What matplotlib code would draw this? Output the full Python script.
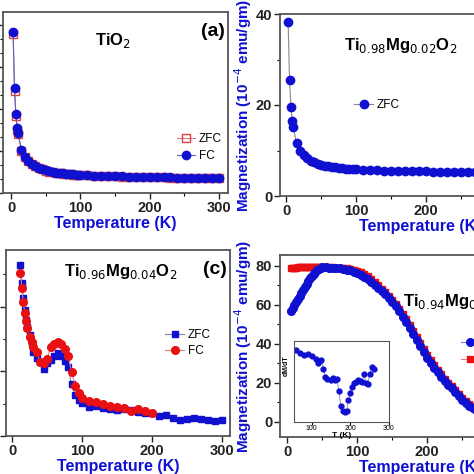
import matplotlib
matplotlib.use("Agg")
import matplotlib.pyplot as plt
from matplotlib.ticker import MultipleLocator

W = H = 474
fig = plt.figure(figsize=(4.74, 4.74), dpi=100)
plt.rcParams['font.family'] = ['Liberation Sans', 'DejaVu Sans']

BLUE = '#1010d0'
RED = '#e81010'

# Panel (a) TiO2
Ta = [3, 5, 7, 9, 10, 15, 20, 25, 30, 35, 40, 45, 50, 55, 60, 65, 70, 75, 80, 85, 90, 95, 100,
      110, 120, 130, 140, 150, 160, 170, 180, 190, 200, 210, 220, 230, 240, 250, 260, 270, 280, 290, 300]
Ma_fc = [11.5, 7.5, 5.6, 4.6, 4.3, 3.1, 2.6, 2.3, 2.1, 1.95, 1.8, 1.7, 1.62, 1.55, 1.5, 1.45, 1.42, 1.39, 1.36, 1.34, 1.32, 1.3, 1.28,
         1.26, 1.24, 1.22, 1.2, 1.19, 1.18, 1.17, 1.16, 1.15, 1.14, 1.13, 1.12, 1.11, 1.1, 1.1, 1.09, 1.08, 1.08, 1.07, 1.07]
Ma_zfc = [11.3, 7.3, 5.5, 4.5, 4.2, 3.0, 2.55, 2.25, 2.05, 1.9, 1.78, 1.68, 1.6, 1.53, 1.48, 1.44, 1.41, 1.38, 1.35, 1.33, 1.31, 1.29, 1.27,
          1.25, 1.23, 1.21, 1.19, 1.18, 1.17, 1.16, 1.15, 1.14, 1.13, 1.12, 1.11, 1.1, 1.09, 1.09, 1.08, 1.07, 1.07, 1.06, 1.06]

# Panel (b) Ti0.98Mg0.02O2
Tb = [3, 5, 7, 9, 10, 15, 20, 25, 30, 35, 40, 45, 50, 55, 60, 65, 70, 75, 80, 85, 90, 95, 100,
      110, 120, 130, 140, 150, 160, 170, 180, 190, 200, 210, 220, 230, 240, 250, 260, 270, 280, 290, 300]
Mb = [38.3, 25.4, 19.5, 16.4, 15.2, 11.7, 10.0, 9.0, 8.3, 7.8, 7.4, 7.1, 6.9, 6.7, 6.5, 6.4, 6.3, 6.2, 6.1, 6.0, 5.95, 5.9, 5.85,
      5.8, 5.7, 5.65, 5.6, 5.55, 5.5, 5.5, 5.45, 5.4, 5.4, 5.35, 5.35, 5.3, 5.3, 5.3, 5.3, 5.3, 5.3, 5.3, 5.3]

# Panel (c) Ti0.96Mg0.04O2
Tc_zfc = [12, 14, 16, 18, 20, 22, 25, 28, 30, 35, 40, 45, 50, 55, 60, 65, 70, 75, 80, 85, 90, 95, 100,
          110, 120, 130, 140, 150, 160, 170, 180, 190, 200, 210, 220, 230, 240, 250, 260, 270, 280, 290, 300]
Mc_zfc = [5.29, 4.72, 4.26, 3.9, 3.6, 3.38, 3.12, 2.87, 2.61, 2.42, 2.3, 2.07, 2.25, 2.35, 2.48, 2.56, 2.48, 2.33, 2.12, 1.6, 1.27, 1.11, 1.01,
          0.91, 0.94, 0.88, 0.85, 0.8, 0.82, 0.79, 0.74, 0.72, 0.7, 0.63, 0.66, 0.57, 0.49, 0.53, 0.55, 0.52, 0.51, 0.47, 0.48]
Tc_fc = [12, 14, 16, 18, 20, 22, 25, 28, 30, 35, 40, 45, 50, 55, 60, 65, 70, 75, 80, 85, 90, 95, 100,
         110, 120, 130, 140, 150, 160, 170, 180, 190, 200]
Mc_fc = [5.03, 4.59, 4.15, 3.81, 3.54, 3.33, 3.07, 2.92, 2.76, 2.59, 2.3, 2.27, 2.38, 2.76, 2.85, 2.92, 2.85, 2.69, 2.48, 1.99, 1.56, 1.32, 1.16,
         1.08, 1.04, 0.98, 0.93, 0.89, 0.86, 0.78, 0.82, 0.77, 0.7]

# Panel (d) Ti0.94Mg0.06O2
Td = [5, 8, 10, 13, 15, 18, 20, 23, 25, 28, 30, 33, 35, 38, 40, 43, 45, 48, 50, 55, 60, 65, 70, 75, 80, 85, 90, 95, 100,
      105, 110, 115, 120, 125, 130, 135, 140, 145, 150, 155, 160, 165, 170, 175, 180, 185, 190, 195, 200,
      205, 210, 215, 220, 225, 230, 235, 240, 245, 250, 255, 260, 265, 270, 275, 280, 290, 300]
Md_zfc = [57, 58.5, 60, 61.5, 63, 64.5, 66, 67.5, 69, 70.5, 72, 73.5, 75, 76, 77, 78, 78.5, 79, 79.2, 79.2, 79, 79, 78.8, 78.6, 78.3, 78, 77.6, 77, 76.2,
          75.3, 74.3, 73, 71.7, 70.3, 68.8, 67.2, 65.5, 63.6, 61.6, 59.3, 56.8, 54, 51, 48, 45, 42, 38.8, 35.8, 33,
          30.3, 27.8, 25.5, 23.2, 21, 19, 17.2, 15.5, 13.5, 11.5, 9.8, 8.4, 7.2, 6.2, 5.4, 4.8, 4.0, 3.5]
Md_fc = [79, 79, 79, 79, 79.1, 79.1, 79.1, 79.1, 79.1, 79.1, 79.1, 79.1, 79.1, 79.1, 79.1, 79.1, 79.1, 79.1, 79.1, 79.1, 79.1, 79.1, 79, 79, 78.9, 78.7, 78.4, 78, 77.5,
         76.7, 75.8, 74.5, 73, 71.5, 70, 68.2, 66.5, 64.5, 62.5, 60.5, 58, 55.5, 52.5, 49.5, 46.5, 43.5, 40.5, 37.5, 34.5,
         31.8, 29.2, 26.8, 24.5, 22.2, 20.2, 18.3, 16.5, 14.5, 12.5, 10.8, 9.2, 8, 6.8, 5.9, 5.2, 4.3, 3.8]

# Inset dM/dT
Ti = [60, 70, 80, 90, 100, 110, 115, 120, 125, 130, 135, 140, 150, 155, 160, 165, 170, 175, 180, 185, 190,
      195, 200, 205, 210, 215, 220, 225, 230, 235, 240, 245, 250, 255, 260]
Mi = [223, 215, 210, 212, 205, 195, 185, 190, 192, 165, 140, 135, 132, 138, 130, 135, 98, 50, 35, 30, 33,
      70, 90, 108, 120, 125, 130, 128, 123, 150, 122, 118, 150, 170, 165]


def ax_px(l, t, r, b):
    return fig.add_axes([l / W, 1 - b / H, (r - l) / W, (b - t) / H])


def style(ax):
    for s in ax.spines.values():
        s.set_color('#555555')
        s.set_linewidth(1.3)
    ax.tick_params(direction='out', length=4, width=1, labelsize=10.5, colors='#222222', pad=1.5)
    ax.tick_params(which='minor', direction='out', length=2.5, width=0.8)
    for lab in ax.get_xticklabels() + ax.get_yticklabels():
        lab.set_fontweight('bold')
    ax.set_xlabel('Temperature (K)', color=BLUE, fontsize=11.5, fontweight='bold', labelpad=1)


lab_kw = dict(fontsize=12, fontweight='bold')
YL = 'Magnetization (10$^{-4}$ emu/gm)'

# (a)
ax = ax_px(3, 12, 228, 193)
ax.plot(Ta, Ma_zfc, '-s', color='#d08080', mfc='none', mec='#e04040', ms=6, lw=0.8, label='ZFC')
ax.plot(Ta, Ma_fc, '-o', color='#6060c0', mfc=BLUE, mec=BLUE, ms=6, lw=0.8, label='FC')
ax.set_xlim(-11.6, 313)
ax.set_ylim(0, 12.9)
ax.xaxis.set_major_locator(MultipleLocator(100))
ax.xaxis.set_minor_locator(MultipleLocator(50))
ax.yaxis.set_major_locator(MultipleLocator(3))
ax.yaxis.set_minor_locator(MultipleLocator(1))
ax.set_yticklabels([])
style(ax)
ax.legend(loc='center left', bbox_to_anchor=(0.74, 0.25), frameon=False, fontsize=8.5, handlelength=1.6,
          borderpad=0.1, labelspacing=0.4, handletextpad=0.3)
ax.text(0.49, 0.82, 'TiO$_2$', transform=ax.transAxes, ha='center', **lab_kw)
ax.text(0.985, 0.94, '(a)', transform=ax.transAxes, ha='right', va='top', fontsize=14, fontweight='bold')

# (b)
ax = ax_px(280, 14, 560, 196)
ax.plot(Tb, Mb, '-o', color='#888888', mfc=BLUE, mec=BLUE, ms=6, lw=0.8, label='ZFC')
ax.set_xlim(-8.6, 391)
ax.set_ylim(0, 40)
ax.xaxis.set_major_locator(MultipleLocator(100))
ax.xaxis.set_minor_locator(MultipleLocator(50))
ax.yaxis.set_major_locator(MultipleLocator(20))
ax.yaxis.set_minor_locator(MultipleLocator(10))
style(ax)
ax.set_ylabel(YL, color=BLUE, fontsize=11, fontweight='bold', labelpad=1)
ax.legend(loc='center left', bbox_to_anchor=(0.24, 0.5), frameon=False, fontsize=8.5, handlelength=1.6,
          borderpad=0.1, handletextpad=0.3)
ax.text(0.23, 0.80, 'Ti$_{0.98}$Mg$_{0.02}$O$_2$', transform=ax.transAxes, ha='left', **lab_kw)

# (c)
ax = ax_px(6, 250, 230, 436)
ax.plot(Tc_zfc, Mc_zfc, '-s', color='#8080d0', mfc=BLUE, mec=BLUE, ms=5, lw=0.8, label='ZFC')
ax.plot(Tc_fc, Mc_fc, '-o', color='#e08080', mfc=RED, mec=RED, ms=5.5, lw=0.8, label='FC')
ax.set_xlim(-8.6, 311)
ax.set_ylim(0, 5.75)
ax.xaxis.set_major_locator(MultipleLocator(100))
ax.yaxis.set_major_locator(MultipleLocator(2))
ax.yaxis.set_minor_locator(MultipleLocator(1))
ax.set_yticklabels([])
style(ax)
ax.legend(loc='center left', bbox_to_anchor=(0.68, 0.5), frameon=False, fontsize=8.5, handlelength=1.6,
          borderpad=0.1, labelspacing=0.3, handletextpad=0.3)
ax.text(0.26, 0.86, 'Ti$_{0.96}$Mg$_{0.04}$O$_2$', transform=ax.transAxes, ha='left', **lab_kw)
ax.text(0.985, 0.94, '(c)', transform=ax.transAxes, ha='right', va='top', fontsize=14, fontweight='bold')

# (d)
ax = ax_px(280, 255, 560, 437)
ax.plot(Td, Md_fc, '-s', color='#e08080', mfc=RED, mec=RED, ms=5, lw=0.8, label='FC')
ax.plot(Td, Md_zfc, '-o', color='#8080d0', mfc=BLUE, mec=BLUE, ms=5.5, lw=0.8, label='ZFC')
ax.set_xlim(-10, 390)
ax.set_ylim(-7.7, 85.5)
ax.xaxis.set_major_locator(MultipleLocator(100))
ax.xaxis.set_minor_locator(MultipleLocator(50))
ax.yaxis.set_major_locator(MultipleLocator(20))
ax.yaxis.set_minor_locator(MultipleLocator(10))
style(ax)
ax.set_ylabel(YL, color=BLUE, fontsize=11, fontweight='bold', labelpad=1)
h, l = ax.get_legend_handles_labels()
ax.legend([h[1], h[0]], [l[1], l[0]], loc='center left', bbox_to_anchor=(0.62, 0.47), frameon=False, fontsize=8.5,
          handlelength=1.6, borderpad=0.1, labelspacing=0.4, handletextpad=0.3)
ax.text(0.44, 0.72, 'Ti$_{0.94}$Mg$_{0.06}$O$_2$', transform=ax.transAxes, ha='left', **lab_kw)

# inset
ins = ax_px(294, 341, 389, 422)
ins.plot(Ti, Mi, '-o', color='#8080d0', mfc=BLUE, mec=BLUE, ms=3.5, lw=0.6)
ins.set_xlim(54, 300)
ins.set_ylim(0, 252)
ins.xaxis.set_major_locator(MultipleLocator(100))
ins.set_yticks([])
for s in ins.spines.values():
    s.set_color('#555555')
    s.set_linewidth(0.8)
ins.tick_params(labelsize=5, length=2, pad=0.5)
ins.set_xlabel('T (K)', fontsize=6, fontweight='bold', labelpad=-0.5)
ins.set_ylabel('dM/dT', fontsize=5, fontweight='bold', labelpad=1)
ins.yaxis.set_label_coords(-0.05, 0.7)

fig.savefig('out.png', dpi=100)
